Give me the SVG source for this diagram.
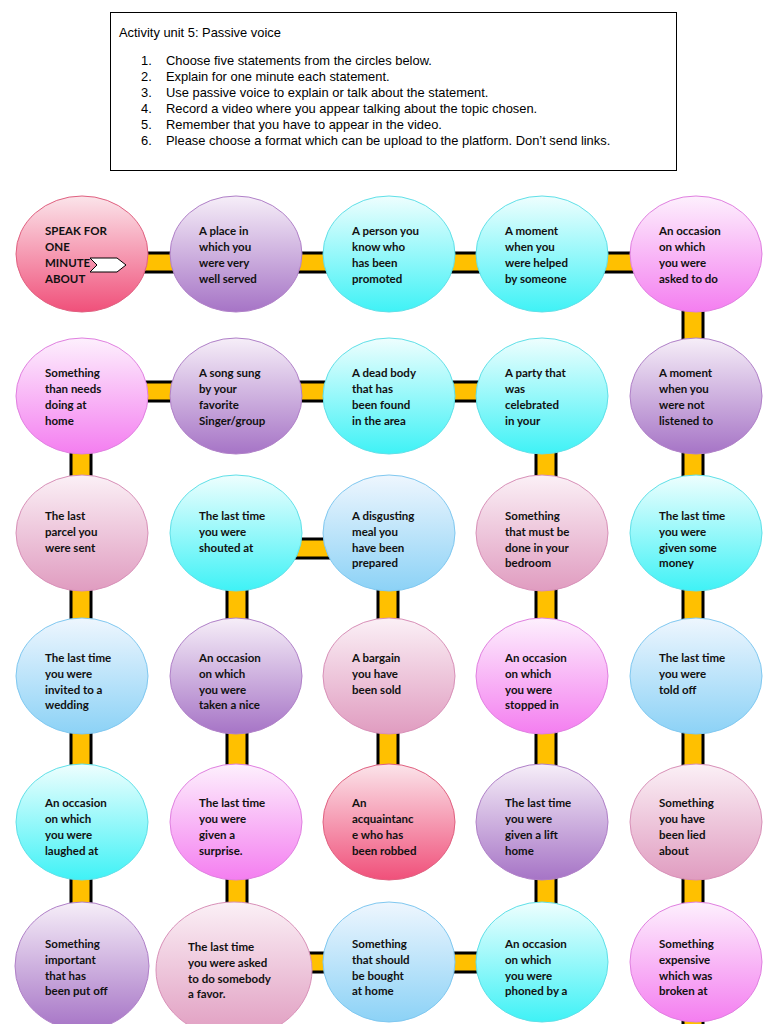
<svg xmlns="http://www.w3.org/2000/svg" width="768" height="1024" viewBox="0 0 768 1024">
<style>
.hd{font-family:"Liberation Sans",Arial,sans-serif;font-size:12.9px;fill:#000}
.t{font-family:Lato,"Open Sans",sans-serif;font-weight:bold;font-size:11.5px;fill:#111}
.bar{fill:#FFC000;stroke:#000;stroke-width:3}
</style>
<defs>
<linearGradient id="gr" x1="0" y1="0" x2="0" y2="1"><stop offset="0" stop-color="#fbe4ea"/><stop offset="1" stop-color="#f0507a"/></linearGradient>
<linearGradient id="gp" x1="0" y1="0" x2="0" y2="1"><stop offset="0" stop-color="#f6eef8"/><stop offset="1" stop-color="#a674c6"/></linearGradient>
<linearGradient id="gc" x1="0" y1="0" x2="0" y2="1"><stop offset="0" stop-color="#eefefe"/><stop offset="1" stop-color="#3ff2f6"/></linearGradient>
<linearGradient id="gb" x1="0" y1="0" x2="0" y2="1"><stop offset="0" stop-color="#eef6fe"/><stop offset="1" stop-color="#8cd2f6"/></linearGradient>
<linearGradient id="gm" x1="0" y1="0" x2="0" y2="1"><stop offset="0" stop-color="#fdf0fd"/><stop offset="1" stop-color="#f47ef0"/></linearGradient>
<linearGradient id="gd" x1="0" y1="0" x2="0" y2="1"><stop offset="0" stop-color="#fbf0f6"/><stop offset="1" stop-color="#e09cc0"/></linearGradient>
</defs>
<g id="instructions">
<rect x="110.5" y="12.5" width="566" height="158" fill="#fff" stroke="#000"/>
<text class="hd" x="119" y="37">Activity unit 5: Passive voice</text>
<text class="hd" x="141" y="65">1.</text><text class="hd" x="166" y="65">Choose five statements from the circles below.</text>
<text class="hd" x="141" y="81">2.</text><text class="hd" x="166" y="81">Explain for one minute each statement.</text>
<text class="hd" x="141" y="97">3.</text><text class="hd" x="166" y="97">Use passive voice to explain or talk about the statement.</text>
<text class="hd" x="141" y="113">4.</text><text class="hd" x="166" y="113">Record a video where you appear talking about the topic chosen.</text>
<text class="hd" x="141" y="129">5.</text><text class="hd" x="166" y="129">Remember that you have to appear in the video.</text>
<text class="hd" x="141" y="145">6.</text><text class="hd" x="166" y="145">Please choose a format which can be upload to the platform. Don’t send links.</text>
</g>
<g id="connectors">
<rect class="bar" x="140" y="253" width="260" height="19"/>
<rect class="bar" x="400" y="253" width="250" height="19"/>
<rect class="bar" x="140" y="382" width="400" height="19"/>
<rect class="bar" x="290" y="539" width="40" height="19"/>
<rect class="bar" x="444" y="953" width="40" height="19"/>
<rect class="bar" x="290" y="953" width="40" height="19"/>
<rect class="bar" x="683" y="300" width="20" height="50"/>
<rect class="bar" x="71" y="440" width="20" height="50"/>
<rect class="bar" x="536" y="440" width="20" height="50"/>
<rect class="bar" x="683" y="440" width="20" height="50"/>
<rect class="bar" x="71" y="585" width="20" height="45"/>
<rect class="bar" x="227" y="585" width="20" height="45"/>
<rect class="bar" x="378" y="585" width="20" height="45"/>
<rect class="bar" x="536" y="585" width="20" height="45"/>
<rect class="bar" x="683" y="585" width="20" height="45"/>
<rect class="bar" x="71" y="725" width="20" height="45"/>
<rect class="bar" x="227" y="725" width="20" height="45"/>
<rect class="bar" x="378" y="725" width="20" height="45"/>
<rect class="bar" x="536" y="725" width="20" height="45"/>
<rect class="bar" x="683" y="725" width="20" height="45"/>
<rect class="bar" x="71" y="870" width="20" height="45"/>
<rect class="bar" x="227" y="870" width="20" height="45"/>
<rect class="bar" x="536" y="870" width="20" height="45"/>
<rect class="bar" x="683" y="870" width="20" height="45"/>
<rect class="bar" x="71" y="1015" width="20" height="20"/>
<rect class="bar" x="683" y="1015" width="20" height="20"/>
</g>
<g id="n1"><ellipse cx="82" cy="254" rx="66" ry="58" fill="url(#gr)" stroke="#e06080"/>
<text class="t" x="45" y="235">SPEAK FOR</text><text class="t" x="45" y="251">ONE</text><text class="t" x="45" y="267">MINUTE</text><text class="t" x="45" y="283">ABOUT</text>
<polygon points="90,258 117,258 126,265 117,272 90,272 97,265" fill="#fff" stroke="#000"/></g>
<g id="n2"><ellipse cx="236" cy="254" rx="66" ry="58" fill="url(#gp)" stroke="#b080c8"/>
<text class="t" x="199" y="235">A place in</text><text class="t" x="199" y="251">which you</text><text class="t" x="199" y="267">were very</text><text class="t" x="199" y="283">well served</text></g>
<g id="n3"><ellipse cx="389" cy="254" rx="66" ry="58" fill="url(#gc)" stroke="#60e0e8"/>
<text class="t" x="352" y="235">A person you</text><text class="t" x="352" y="251">know who</text><text class="t" x="352" y="267">has been</text><text class="t" x="352" y="283">promoted</text></g>
<g id="n4"><ellipse cx="542" cy="254" rx="66" ry="58" fill="url(#gc)" stroke="#60e0e8"/>
<text class="t" x="505" y="235">A moment</text><text class="t" x="505" y="251">when you</text><text class="t" x="505" y="267">were helped</text><text class="t" x="505" y="283">by someone</text></g>
<g id="n5"><ellipse cx="696" cy="254" rx="66" ry="58" fill="url(#gm)" stroke="#e080e0"/>
<text class="t" x="659" y="235">An occasion</text><text class="t" x="659" y="251">on which</text><text class="t" x="659" y="267">you were</text><text class="t" x="659" y="283">asked to do</text></g>

<g id="n6"><ellipse cx="82" cy="396" rx="66" ry="58" fill="url(#gm)" stroke="#e080e0"/>
<text class="t" x="45" y="377">Something</text><text class="t" x="45" y="393">than needs</text><text class="t" x="45" y="409">doing at</text><text class="t" x="45" y="425">home</text></g>
<g id="n7"><ellipse cx="236" cy="396" rx="66" ry="58" fill="url(#gp)" stroke="#b080c8"/>
<text class="t" x="199" y="377">A song sung</text><text class="t" x="199" y="393">by your</text><text class="t" x="199" y="409">favorite</text><text class="t" x="199" y="425">Singer/group</text></g>
<g id="n8"><ellipse cx="389" cy="396" rx="66" ry="58" fill="url(#gc)" stroke="#60e0e8"/>
<text class="t" x="352" y="377">A dead body</text><text class="t" x="352" y="393">that has</text><text class="t" x="352" y="409">been found</text><text class="t" x="352" y="425">in the area</text></g>
<g id="n9"><ellipse cx="542" cy="396" rx="66" ry="58" fill="url(#gc)" stroke="#60e0e8"/>
<text class="t" x="505" y="377">A party that</text><text class="t" x="505" y="393">was</text><text class="t" x="505" y="409">celebrated</text><text class="t" x="505" y="425">in your</text></g>
<g id="n10"><ellipse cx="696" cy="396" rx="66" ry="58" fill="url(#gp)" stroke="#b080c8"/>
<text class="t" x="659" y="377">A moment</text><text class="t" x="659" y="393">when you</text><text class="t" x="659" y="409">were not</text><text class="t" x="659" y="425">listened to</text></g>

<g id="n11"><ellipse cx="82" cy="533" rx="66" ry="58" fill="url(#gd)" stroke="#d890b8"/>
<text class="t" x="45" y="520">The last</text><text class="t" x="45" y="536">parcel you</text><text class="t" x="45" y="552">were sent</text></g>
<g id="n12"><ellipse cx="236" cy="533" rx="66" ry="58" fill="url(#gc)" stroke="#60e0e8"/>
<text class="t" x="199" y="520">The last time</text><text class="t" x="199" y="536">you were</text><text class="t" x="199" y="552">shouted at</text></g>
<g id="n13"><ellipse cx="389" cy="533" rx="66" ry="58" fill="url(#gb)" stroke="#80c8f0"/>
<text class="t" x="352" y="520">A disgusting</text><text class="t" x="352" y="536">meal you</text><text class="t" x="352" y="552">have been</text><text class="t" x="352" y="567">prepared</text></g>
<g id="n14"><ellipse cx="542" cy="533" rx="66" ry="58" fill="url(#gd)" stroke="#d890b8"/>
<text class="t" x="505" y="520">Something</text><text class="t" x="505" y="536">that must be</text><text class="t" x="505" y="552">done in your</text><text class="t" x="505" y="567">bedroom</text></g>
<g id="n15"><ellipse cx="696" cy="533" rx="66" ry="58" fill="url(#gc)" stroke="#60e0e8"/>
<text class="t" x="659" y="520">The last time</text><text class="t" x="659" y="536">you were</text><text class="t" x="659" y="552">given some</text><text class="t" x="659" y="567">money</text></g>

<g id="n16"><ellipse cx="82" cy="676" rx="66" ry="58" fill="url(#gb)" stroke="#80c8f0"/>
<text class="t" x="45" y="662">The last time</text><text class="t" x="45" y="678">you were</text><text class="t" x="45" y="694">invited to a</text><text class="t" x="45" y="709">wedding</text></g>
<g id="n17"><ellipse cx="236" cy="676" rx="66" ry="58" fill="url(#gp)" stroke="#b080c8"/>
<text class="t" x="199" y="662">An occasion</text><text class="t" x="199" y="678">on which</text><text class="t" x="199" y="694">you were</text><text class="t" x="199" y="709">taken a nice</text></g>
<g id="n18"><ellipse cx="389" cy="676" rx="66" ry="58" fill="url(#gd)" stroke="#d890b8"/>
<text class="t" x="352" y="662">A bargain</text><text class="t" x="352" y="678">you have</text><text class="t" x="352" y="694">been sold</text></g>
<g id="n19"><ellipse cx="542" cy="676" rx="66" ry="58" fill="url(#gm)" stroke="#e080e0"/>
<text class="t" x="505" y="662">An occasion</text><text class="t" x="505" y="678">on which</text><text class="t" x="505" y="694">you were</text><text class="t" x="505" y="709">stopped in</text></g>
<g id="n20"><ellipse cx="696" cy="676" rx="66" ry="58" fill="url(#gb)" stroke="#80c8f0"/>
<text class="t" x="659" y="662">The last time</text><text class="t" x="659" y="678">you were</text><text class="t" x="659" y="694">told off</text></g>

<g id="n21"><ellipse cx="82" cy="822" rx="66" ry="58" fill="url(#gc)" stroke="#60e0e8"/>
<text class="t" x="45" y="807">An occasion</text><text class="t" x="45" y="823">on which</text><text class="t" x="45" y="839">you were</text><text class="t" x="45" y="855">laughed at</text></g>
<g id="n22"><ellipse cx="236" cy="822" rx="66" ry="58" fill="url(#gm)" stroke="#e080e0"/>
<text class="t" x="199" y="807">The last time</text><text class="t" x="199" y="823">you were</text><text class="t" x="199" y="839">given a</text><text class="t" x="199" y="855">surprise.</text></g>
<g id="n23"><ellipse cx="389" cy="822" rx="66" ry="58" fill="url(#gr)" stroke="#e06080"/>
<text class="t" x="352" y="807">An</text><text class="t" x="352" y="823">acquaintanc</text><text class="t" x="352" y="839">e who has</text><text class="t" x="352" y="855">been robbed</text></g>
<g id="n24"><ellipse cx="542" cy="822" rx="66" ry="58" fill="url(#gp)" stroke="#b080c8"/>
<text class="t" x="505" y="807">The last time</text><text class="t" x="505" y="823">you were</text><text class="t" x="505" y="839">given a lift</text><text class="t" x="505" y="855">home</text></g>
<g id="n25"><ellipse cx="696" cy="822" rx="66" ry="58" fill="url(#gd)" stroke="#d890b8"/>
<text class="t" x="659" y="807">Something</text><text class="t" x="659" y="823">you have</text><text class="t" x="659" y="839">been lied</text><text class="t" x="659" y="855">about</text></g>

<g id="n26"><ellipse cx="82" cy="966" rx="67" ry="64" fill="url(#gp)" stroke="#b080c8"/>
<text class="t" x="45" y="948">Something</text><text class="t" x="45" y="964">important</text><text class="t" x="45" y="980">that has</text><text class="t" x="45" y="995">been put off</text></g>
<g id="n27"><ellipse cx="234" cy="970" rx="78" ry="68" fill="url(#gd)" stroke="#d890b8"/>
<text class="t" x="188" y="951">The last time</text><text class="t" x="188" y="967">you were asked</text><text class="t" x="188" y="983">to do somebody</text><text class="t" x="188" y="998">a favor.</text></g>
<g id="n28"><ellipse cx="389" cy="962" rx="66" ry="60" fill="url(#gb)" stroke="#80c8f0"/>
<text class="t" x="352" y="948">Something</text><text class="t" x="352" y="964">that should</text><text class="t" x="352" y="980">be bought</text><text class="t" x="352" y="995">at home</text></g>
<g id="n29"><ellipse cx="542" cy="962" rx="66" ry="60" fill="url(#gc)" stroke="#60e0e8"/>
<text class="t" x="505" y="948">An occasion</text><text class="t" x="505" y="964">on which</text><text class="t" x="505" y="980">you were</text><text class="t" x="505" y="995">phoned by a</text></g>
<g id="n30"><ellipse cx="696" cy="962" rx="66" ry="60" fill="url(#gm)" stroke="#e080e0"/>
<text class="t" x="659" y="948">Something</text><text class="t" x="659" y="964">expensive</text><text class="t" x="659" y="980">which was</text><text class="t" x="659" y="995">broken at</text></g>
</svg>
